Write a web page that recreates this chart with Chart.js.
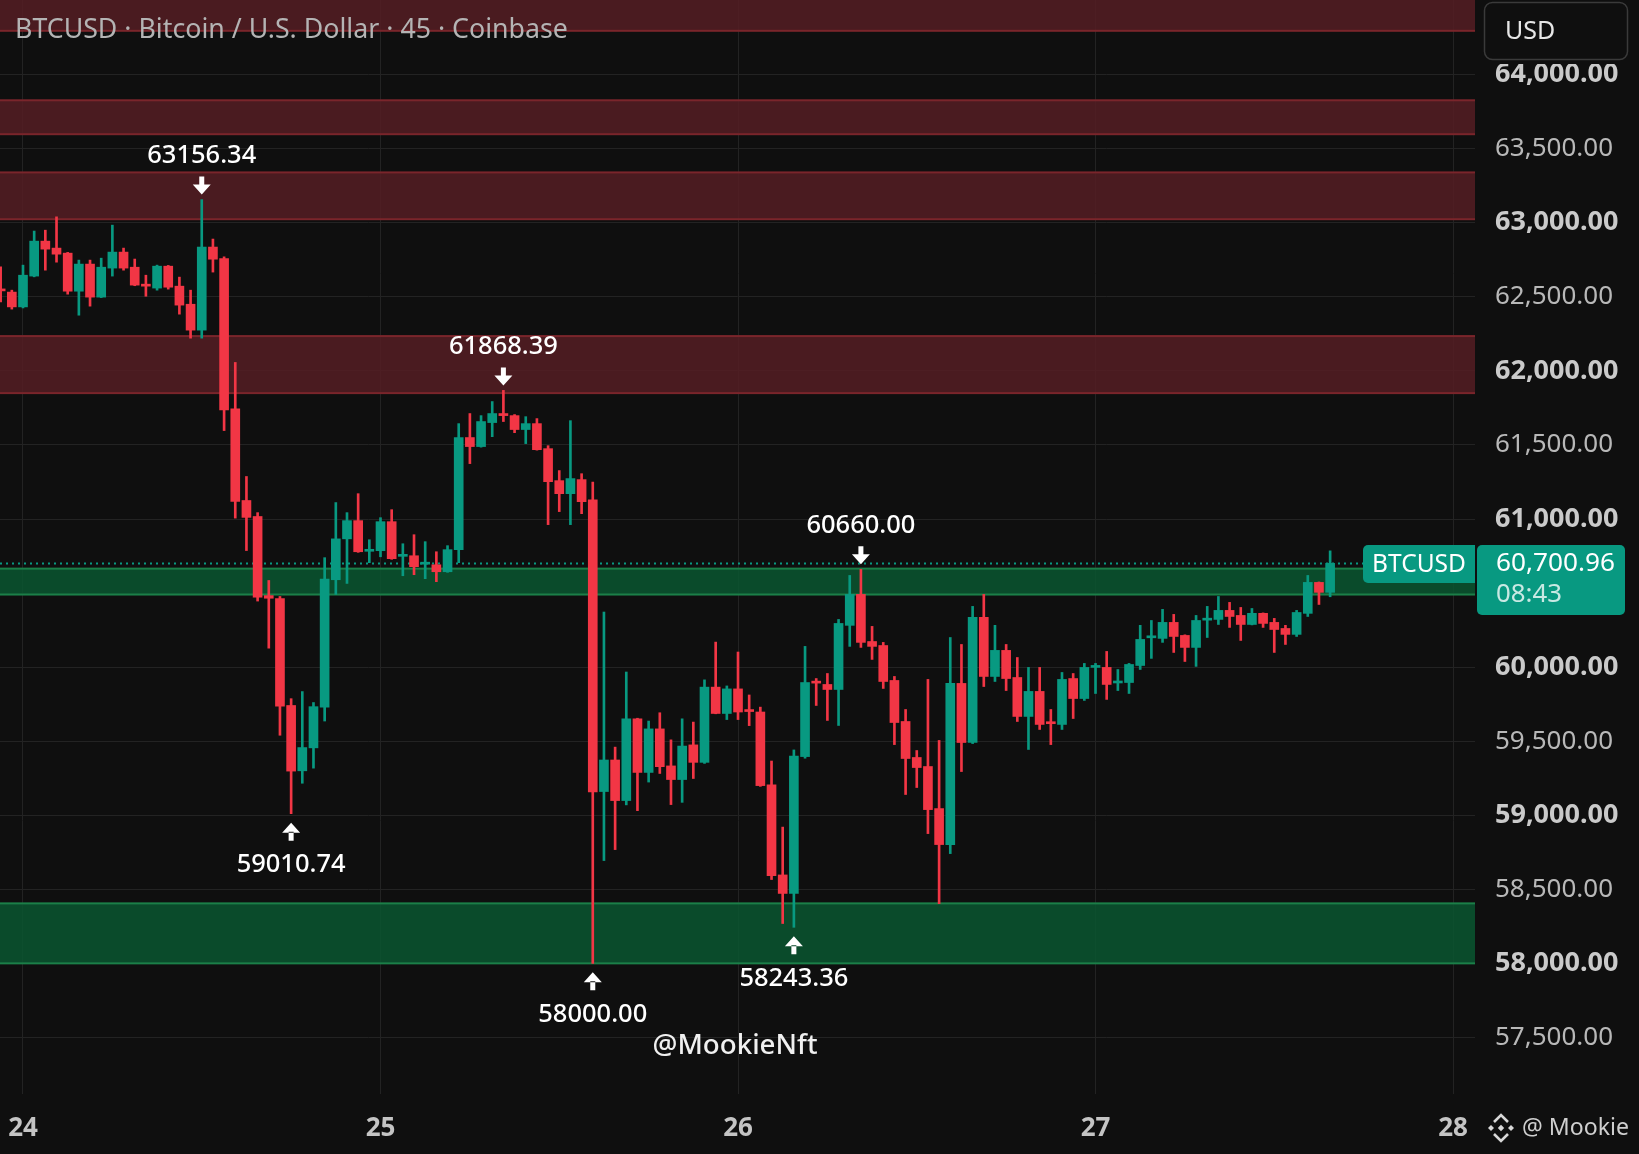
<!DOCTYPE html>
<html><head><meta charset="utf-8">
<script src="https://cdn.jsdelivr.net/npm/chart.js@4.4.1/dist/chart.umd.min.js"></script>
<style>html,body{margin:0;padding:0;background:#0f0f0f;overflow:hidden}#wrap{width:1639px;height:1154px;position:relative}</style>
</head><body><div id="wrap"><canvas id="c" width="1639" height="1154"></canvas></div>
<script>
const titleText = 'BTCUSD · Bitcoin / U.S. Dollar · 45 · Coinbase';
const startDay = 24, barMinutes = 45, firstBar = -2;
const opens = [62550,62532,62432,62640,62876,62829,62795,62538,62721,62498,62694,62802,62700,62578,62559,62707,62572,62450,62275,62836,
62759,61744,61125,61017,60483,60463,59741,59300,59455,59730,60590,60866,60989,60782,60786,60982,60748,60752,60695,60691,
60644,60793,61550,61489,61651,61712,61698,61604,61644,61475,61259,61171,61266,61129,59160,59373,59099,59651,59289,59583,
59333,59241,59475,59357,59865,59687,59853,59706,59697,59205,58597,58472,59396,59898,59883,59849,60282,60491,60173,60146,
59910,59633,59390,59329,59045,58802,59890,59491,60336,59937,60113,59930,59667,59836,59625,59613,59923,59788,59998,59998,
59893,59896,60011,60198,60194,60302,60214,60133,60317,60322,60383,60349,60288,60363,60302,60261,60221,60363,60572,60505];
const highs = [62703,62545,62714,62944,62950,63040,62800,62748,62748,62761,62984,62829,62755,62646,62714,62712,62633,62545,63156.34,62890,
62770,62057,61287,61043,60585,60477,59787,59835,59761,60739,61111,61043,61171,60860,61009,61063,60833,60894,60847,60779,
60820,61644,61712,61698,61793,61868.39,61705,61691,61678,61495,61327,61664,61306,61249,60372,59460,59967,59655,59636,59692,
59509,59651,59629,59914,60169,59873,60102,59812,59730,59366,58920,59441,60140,59923,59957,60322,60619,60660,60275,60167,
59937,59714,59437,59917,59505,60200,60153,60410,60491,60282,60153,60065,59998,59998,59714,59964,59957,60025,60025,60106,
59984,60025,60282,60315,60390,60356,60218,60349,60410,60477,60437,60403,60396,60366,60329,60282,60383,60619,60575,60785];
const lows = [62466,62417,62425,62635,62680,62734,62518,62376,62437,62495,62640,62680,62575,62504,62545,62552,62383,62221,62221,62667,
61597,61006,60787,60446,60128,59540,59010.74,59216,59318,59636,60491,60565,60775,60705,60745,60728,60617,60624,60597,60577,
60640,60705,61374,61485,61556,61658,61583,61509,61465,60962,61050,60962,61036,58000,58694,58768,59070,59031,59224,59282,
59072,59087,59248,59350,59685,59646,59646,59605,59195,58566,58269,58243.36,59385,59741,59640,59606,60140,60133,60052,59856,
59477,59140,59187,58876,58403,58741,59295,59484,59869,59903,59842,59633,59444,59579,59477,59579,59653,59775,59822,59782,
59842,59822,59984,60059,60167,60099,60038,60005,60200,60288,60268,60180,60285,60268,60099,60153,60207,60342,60423,60475];
const closes = [62540,62432,62646,62876,62822,62788,62538,62721,62498,62700,62802,62694,62579,62572,62707,62565,62444,62275,62836,62754,
61736,61119,61011,60472,60465,59736,59298,59457,59733,60594,60866,60989,60779,60790,60982,60732,60755,60678,60700,60644,
60793,61550,61489,61658,61712,61698,61604,61644,61468,61252,61171,61273,61117,59157,59373,59099,59651,59289,59583,59328,
59241,59467,59357,59865,59687,59853,59697,59700,59200,58592,58472,59400,59896,59892,59849,60295,60491,60167,60140,59903,
59626,59383,59322,59038,58802,59890,59491,60336,59937,60113,59923,59667,59836,59613,59618,59917,59788,59998,60002,59883,
59900,60018,60187,60205,60302,60207,60133,60315,60322,60383,60342,60288,60363,60295,60254,60221,60369,60572,60505,60700.96];
const dayTicks = [24,25,26,27,28];
const priceTicks = [57500,58000,58500,59000,59500,60000,60500,61000,61500,62000,62500,63000,63500,64000];
const yMin = 57118, yMax = 64504;
const xMin = 23.93567, xMax = 28.06147;
const redZones = [[64296,64900],[63598,63827],[63024,63340],[61850,62235]];
const greenZones = [[60490,60665],[58000,58405]];
const lastPrice = 60700.96, countdown = '08:43', symbol = 'BTCUSD', currency = 'USD';
const calloutBars = [16, 43, 24, 51, 69, 75];
const calloutPrices = [63156.34, 61868.39, 59010.74, 58000.00, 58243.36, 60660.00];
const calloutDirs = ['down','down','up','up','up','down'];
const watermark = '@MookieNft', brand = '@ Mookie';

const GREEN = '#089981', RED = '#f23645';
const FONT = "'Noto Sans', 'DejaVu Sans', sans-serif";
Chart.defaults.font.family = FONT;

const times = opens.map((_, i) => startDay + (firstBar + i) * barMinutes / 1440);
const colors = closes.map((c, i) => c >= opens[i] ? GREEN : RED);
const bodyData = times.map((t, i) => ({x: t, y: [opens[i], closes[i]]}));
const wickData = times.map((t, i) => ({x: t, y: [lows[i], highs[i]]}));

function fmt(v){ return v.toLocaleString('en-US',{minimumFractionDigits:2, maximumFractionDigits:2}); }
function rr(ctx,x,y,w,h,r){ ctx.beginPath(); ctx.roundRect(x,y,w,h,r); }
function fitFont(ctx, text, width, weight){ ctx.font = weight+' 24px '+FONT; const w = ctx.measureText(text).width; return weight+' '+(24*width/w).toFixed(2)+'px '+FONT; }
const isMajor = ctx => !!(ctx && ctx.tick && ctx.tick.value % 1000 === 0);

const deco = {
  id:'deco',
  beforeDraw(chart){ const c=chart.ctx; c.save(); c.fillStyle='#0f0f0f'; c.fillRect(0,0,chart.width,chart.height); c.restore(); },
  beforeDatasetsDraw(chart){
    const c=chart.ctx, a=chart.chartArea, y=chart.scales.y;
    c.save(); c.beginPath(); c.rect(a.left,a.top,a.right-a.left,a.bottom-a.top); c.clip();
    const zone=(lo,hi,fill,edge)=>{ const y1=y.getPixelForValue(hi), y2=y.getPixelForValue(lo);
      c.fillStyle=fill; c.fillRect(a.left,y1,a.right-a.left,y2-y1);
      c.fillStyle=edge; c.fillRect(a.left,y1-1,a.right-a.left,2); c.fillRect(a.left,y2-1,a.right-a.left,2); };
    redZones.forEach(z=>zone(z[0],z[1],'rgba(83,30,35,0.88)','#7a252b'));
    greenZones.forEach(z=>zone(z[0],z[1],'rgba(10,84,48,0.88)','#1b7f48'));
    const ly=Math.round(y.getPixelForValue(lastPrice))+0.5;
    c.strokeStyle=GREEN; c.lineWidth=2; c.setLineDash([2,4]); c.beginPath(); c.moveTo(a.left,ly); c.lineTo(1363,ly); c.stroke();
    c.restore();
  },
  afterDraw(chart){
    const c=chart.ctx, x=chart.scales.x, y=chart.scales.y;
    c.save();
    // title
    c.fillStyle='#b4b4b4'; c.textBaseline='middle'; c.textAlign='left';
    c.font=fitFont(c,titleText,553,'400'); c.fillText(titleText,15,30);
    // currency box
    c.fillStyle='#0f0f0f'; c.fillRect(1477,0,162,64);
    rr(c,1484.5,2.5,143,57,8); c.strokeStyle='#3a3a3a'; c.lineWidth=1.5; c.stroke();
    c.fillStyle='#e6e6e6'; c.font='400 25px '+FONT; c.fillText(currency,1505,32);
    // last price labels
    c.fillStyle=GREEN; rr(c,1363,545,112,38,[5,0,0,5]); c.fill();
    rr(c,1477,545,148,70,5); c.fill();
    c.fillStyle='#ffffff'; c.font=fitFont(c,symbol,94,'400'); c.textAlign='center'; c.fillText(symbol,1419,565);
    c.textAlign='left'; c.font=fitFont(c,fmt(lastPrice),119,'400'); c.fillText(fmt(lastPrice),1496,564);
    c.fillStyle='rgba(255,255,255,0.78)'; c.font=fitFont(c,countdown,66,'400'); c.fillText(countdown,1496,595);
    // callouts
    calloutBars.forEach((b,i)=>{
      const px=x.getPixelForValue(times[b-firstBar]), py=y.getPixelForValue(calloutPrices[i]);
      const down = calloutDirs[i]==='down';
      const ac = down ? py-14 : py+18, tc = down ? py-44 : py+51;
      c.fillStyle='#ffffff'; c.beginPath();
      if(down){ c.rect(px-2.5,ac-9,5,9); c.moveTo(px-9,ac-1); c.lineTo(px+9,ac-1); c.lineTo(px,ac+9); c.closePath(); }
      else { c.rect(px-2.5,ac,5,9); c.moveTo(px-9,ac+1); c.lineTo(px+9,ac+1); c.lineTo(px,ac-9); c.closePath(); }
      c.fill();
      const t=calloutPrices[i].toFixed(2);
      c.font=fitFont(c,t,109,'500'); c.textAlign='center'; c.fillText(t,px,tc);
    });
    // watermark
    c.fillStyle='#f0f0f0'; c.font=fitFont(c,watermark,165,'500'); c.textAlign='center'; c.fillText(watermark,735,1046);
    // brand bottom-right
    const bx=1501, by=1128; c.fillStyle='#d8d8d8';
    const dia=(cx,cy,s)=>{ c.beginPath(); c.moveTo(cx,cy-s); c.lineTo(cx+s,cy); c.lineTo(cx,cy+s); c.lineTo(cx-s,cy); c.closePath(); c.fill(); };
    dia(bx,by,3.2); dia(bx-10,by,3); dia(bx+10,by,3);
    c.strokeStyle='#d8d8d8'; c.lineWidth=2.6;
    c.beginPath(); c.moveTo(bx-7,by-6); c.lineTo(bx,by-13); c.lineTo(bx+7,by-6); c.stroke();
    c.beginPath(); c.moveTo(bx-7,by+6); c.lineTo(bx,by+13); c.lineTo(bx+7,by+6); c.stroke();
    c.textAlign='left'; c.fillStyle='#cfcfcf'; c.font=fitFont(c,brand,107,'400'); c.fillText(brand,1522,by);
    c.restore();
  }
};

new Chart(document.getElementById('c'), {
  type:'bar',
  data:{ datasets:[
    {data:bodyData, backgroundColor:colors, barThickness:9, minBarLength:2, grouped:false, order:0, borderWidth:0},
    {data:wickData, backgroundColor:colors, barThickness:2, grouped:false, order:1, borderWidth:0}
  ]},
  options:{
    responsive:false, animation:false, devicePixelRatio:1,
    layout:{padding:0},
    plugins:{legend:{display:false}, tooltip:{enabled:false}},
    scales:{
      x:{type:'linear', min:xMin, max:xMax, offset:false,
        afterBuildTicks:s=>{ s.ticks=dayTicks.map(v=>({value:v})); },
        afterFit:s=>{ s.height=60; s.paddingLeft=0; s.paddingRight=0; },
        grid:{color:'#232323', drawTicks:false, offset:false}, border:{display:false},
        ticks:{color:'#c4c4c4', font:{size:26, weight:'bold'}, padding:19, maxRotation:0, autoSkip:false, callback:v=>String(v)}
      },
      y:{type:'linear', position:'right', min:yMin, max:yMax,
        afterBuildTicks:s=>{ s.ticks=priceTicks.map(v=>({value:v})); },
        afterFit:s=>{ s.width=164; s.paddingTop=0; s.paddingBottom=0; },
        grid:{color:'#232323', drawTicks:false}, border:{display:false},
        ticks:{
          color:ctx=>isMajor(ctx)?'#cacaca':'#b8b8b8',
          font:ctx=>isMajor(ctx)?{size:27, weight:'bold'}:{size:26, weight:'normal'},
          padding:20, callback:v=>fmt(v)}
      }
    }
  },
  plugins:[deco]
});
</script></body></html>
